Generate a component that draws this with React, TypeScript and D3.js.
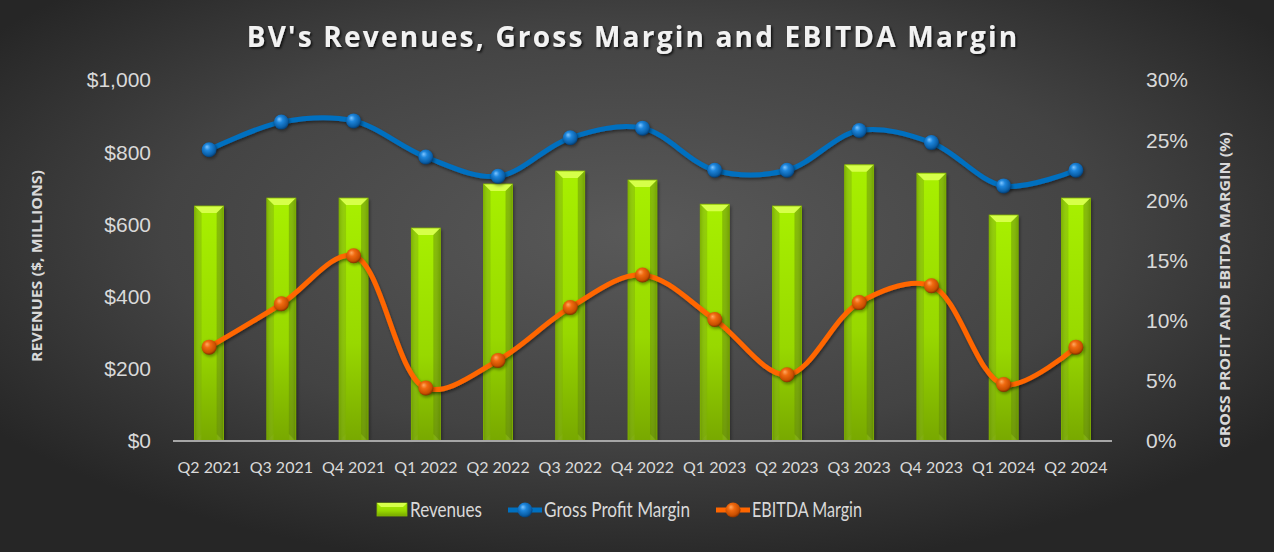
import React from "react";
import * as d3 from "d3";

const categories = ["Q2 2021","Q3 2021","Q4 2021","Q1 2022","Q2 2022","Q3 2022","Q4 2022","Q1 2023","Q2 2023","Q3 2023","Q4 2023","Q1 2024","Q2 2024"];
const revenues = [651, 673, 673, 590, 712, 748, 723, 656, 651, 765, 742, 626, 673];
const grossMargin = [24.2, 26.5, 26.6, 23.6, 22.0, 25.2, 26.0, 22.5, 22.5, 25.8, 24.8, 21.2, 22.5];
const ebitdaMargin = [7.8, 11.4, 15.4, 4.4, 6.7, 11.1, 13.8, 10.1, 5.5, 11.5, 12.9, 4.7, 7.8];
const leftTicks = [0, 200, 400, 600, 800, 1000];
const rightTicks = [0, 5, 10, 15, 20, 25, 30];

const W = 1274, H = 552;
const plot = { left: 173, right: 1112, top: 80, bottom: 441 };

export default function App() {
  const x = d3.scaleBand<string>().domain(categories).range([plot.left, plot.right]).paddingInner(0.6).paddingOuter(0.3);
  const xc = (c: string) => (x(c) as number) + x.bandwidth() / 2;
  const yL = d3.scaleLinear().domain([0, 1000]).range([plot.bottom, plot.top]);
  const yR = d3.scaleLinear().domain([0, 30]).range([plot.bottom, plot.top]);
  const line = d3.line<[number, number]>().x(d => d[0]).y(d => d[1]).curve(d3.curveCatmullRom.alpha(0.5));
  const gmPts: [number, number][] = categories.map((c, i) => [xc(c), yR(grossMargin[i])]);
  const ebPts: [number, number][] = categories.map((c, i) => [xc(c), yR(ebitdaMargin[i])]);
  const bw = 29;
  const fontA = "'Liberation Sans', Arial, sans-serif";
  const fontC = "Lato, 'Open Sans', sans-serif";
  const fontT = "'Open Sans', sans-serif";

  const Bar = ({ c, v }: { c: string; v: number }) => {
    const cx = xc(c);
    const x0 = cx - bw / 2;
    const y0 = yL(v);
    const h = plot.bottom - y0;
    const bv = 7;
    return (
      <g>
        <rect x={x0 + 2} y={y0 + 2} width={bw} height={h - 2} fill="rgba(0,0,0,0.35)" filter="url(#blur2)" />
        <rect x={x0} y={y0} width={bw} height={h} fill="url(#barV)" />
        <rect x={x0} y={y0} width={bw} height={h} fill="url(#barH)" />
        <polygon points={`${x0},${y0} ${x0 + bw},${y0} ${x0 + bw - bv},${y0 + bv} ${x0 + bv},${y0 + bv}`} fill="#d6ff4a" />
        <polygon points={`${x0},${y0} ${x0 + bv},${y0 + bv} ${x0 + bv},${plot.bottom - bv} ${x0},${plot.bottom}`} fill="rgba(120,170,0,0.45)" />
        <polygon points={`${x0 + bw},${y0} ${x0 + bw - bv},${y0 + bv} ${x0 + bw - bv},${plot.bottom - bv} ${x0 + bw},${plot.bottom}`} fill="rgba(90,130,0,0.45)" />
        <rect x={x0} y={y0} width={bw} height={h} fill="none" stroke="#86b800" strokeWidth={0.8} />
      </g>
    );
  };

  const Marker = ({ p, grad }: { p: [number, number]; grad: string }) => (
    <g>
      <circle cx={p[0] + 1} cy={p[1] + 1.5} r={8} fill="rgba(0,0,0,0.35)" filter="url(#blur2)" />
      <circle cx={p[0]} cy={p[1]} r={7.5} fill={`url(#${grad})`} />
    </g>
  );

  return (
    <svg width={W} height={H} style={{ display: "block", position: "absolute", left: 0, top: 0 }}>
      <defs>
        <radialGradient id="bg" cx="50%" cy="42%" r="62%" fx="50%" fy="42%">
          <stop offset="0%" stopColor="#595959" />
          <stop offset="60%" stopColor="#434343" />
          <stop offset="100%" stopColor="#262626" />
        </radialGradient>
        <linearGradient id="barV" x1="0" y1="0" x2="0" y2="1">
          <stop offset="0%" stopColor="#a8f000" />
          <stop offset="60%" stopColor="#98d800" />
          <stop offset="100%" stopColor="#78a800" />
        </linearGradient>
        <linearGradient id="barH" x1="0" y1="0" x2="1" y2="0">
          <stop offset="0%" stopColor="rgba(60,90,0,0.35)" />
          <stop offset="25%" stopColor="rgba(255,255,255,0.0)" />
          <stop offset="75%" stopColor="rgba(255,255,255,0.0)" />
          <stop offset="100%" stopColor="rgba(60,90,0,0.35)" />
        </linearGradient>
        <radialGradient id="blueBall" cx="45%" cy="40%" r="60%" fx="35%" fy="30%">
          <stop offset="0%" stopColor="#7cc4ff" />
          <stop offset="35%" stopColor="#1e86dc" />
          <stop offset="80%" stopColor="#0a5fa8" />
          <stop offset="100%" stopColor="#053c70" />
        </radialGradient>
        <radialGradient id="orangeBall" cx="45%" cy="40%" r="60%" fx="35%" fy="30%">
          <stop offset="0%" stopColor="#ffa860" />
          <stop offset="35%" stopColor="#f06a10" />
          <stop offset="80%" stopColor="#c84e00" />
          <stop offset="100%" stopColor="#803000" />
        </radialGradient>
        <filter id="blur2" x="-50%" y="-50%" width="200%" height="200%">
          <feGaussianBlur stdDeviation="1.5" />
        </filter>
        <filter id="lineShadow" x="-5%" y="-20%" width="110%" height="140%">
          <feDropShadow dx="1" dy="2" stdDeviation="1.5" floodColor="#000" floodOpacity="0.45" />
        </filter>
        <filter id="titleShadow" x="-5%" y="-30%" width="110%" height="160%">
          <feDropShadow dx="1.5" dy="1.5" stdDeviation="1.2" floodColor="#000" floodOpacity="0.8" />
        </filter>
      </defs>
      <rect x={0} y={0} width={W} height={H} fill="url(#bg)" />

      <text x={633} y={47} textAnchor="middle" fill="#f2f2f2" fontFamily={fontT} fontWeight={700} fontSize={28} letterSpacing={2.2} filter="url(#titleShadow)">
        BV's Revenues, Gross Margin and EBITDA Margin
      </text>

      {leftTicks.map(t => (
        <text key={"l" + t} x={151} y={yL(t)} dy="0.35em" textAnchor="end" fill="#d9d9d9" fontFamily={fontA} fontSize={21}>
          {d3.format("$,")(t)}
        </text>
      ))}
      {rightTicks.map(t => (
        <text key={"r" + t} x={1146} y={yR(t)} dy="0.35em" textAnchor="start" fill="#d9d9d9" fontFamily={fontA} fontSize={21}>
          {t + "%"}
        </text>
      ))}

      <text transform={`translate(42,266) rotate(-90)`} textAnchor="middle" fill="#d9d9d9" fontFamily={fontT} fontWeight={700} fontSize={15} textLength={192} lengthAdjust="spacingAndGlyphs">
        REVENUES ($, MILLIONS)
      </text>
      <text transform={`translate(1230,290) rotate(-90)`} textAnchor="middle" fill="#d9d9d9" fontFamily={fontT} fontWeight={700} fontSize={15} textLength={316} lengthAdjust="spacingAndGlyphs">
        GROSS PROFIT AND EBITDA MARGIN (%)
      </text>

      {categories.map((c, i) => <Bar key={c} c={c} v={revenues[i]} />)}

      <line x1={plot.left} x2={plot.right} y1={plot.bottom} y2={plot.bottom} stroke="#a6a6a6" strokeWidth={2} />

      {categories.map(c => (
        <text key={"x" + c} x={xc(c)} y={467} dy="0.35em" textAnchor="middle" fill="#d9d9d9" fontFamily={fontC} fontSize={16}>
          {c}
        </text>
      ))}

      <path d={line(gmPts) as string} fill="none" stroke="#0070c0" strokeWidth={5} filter="url(#lineShadow)" />
      <path d={line(ebPts) as string} fill="none" stroke="#ff6600" strokeWidth={5} filter="url(#lineShadow)" />
      {gmPts.map((p, i) => <Marker key={"g" + i} p={p} grad="blueBall" />)}
      {ebPts.map((p, i) => <Marker key={"e" + i} p={p} grad="orangeBall" />)}

      <g>
        <rect x={377} y={503} width={30} height={13} fill="url(#barV)" stroke="#86b800" strokeWidth={0.8} />
        <polygon points="377,503 407,503 403,507 381,507" fill="#d6ff4a" />
        <text x={410} y={510} dy="0.35em" fill="#d9d9d9" fontFamily={fontC} fontSize={21} textLength={72} lengthAdjust="spacingAndGlyphs">Revenues</text>
        <line x1={508} x2={542} y1={510} y2={510} stroke="#0070c0" strokeWidth={5} />
        <circle cx={525} cy={510} r={7.5} fill="url(#blueBall)" />
        <text x={544} y={510} dy="0.35em" fill="#d9d9d9" fontFamily={fontC} fontSize={21} textLength={146} lengthAdjust="spacingAndGlyphs">Gross Profit Margin</text>
        <line x1={716} x2={750} y1={510} y2={510} stroke="#ff6600" strokeWidth={5} />
        <circle cx={733} cy={510} r={7.5} fill="url(#orangeBall)" />
        <text x={752} y={510} dy="0.35em" fill="#d9d9d9" fontFamily={fontC} fontSize={21} textLength={110} lengthAdjust="spacingAndGlyphs">EBITDA Margin</text>
      </g>
    </svg>
  );
}
